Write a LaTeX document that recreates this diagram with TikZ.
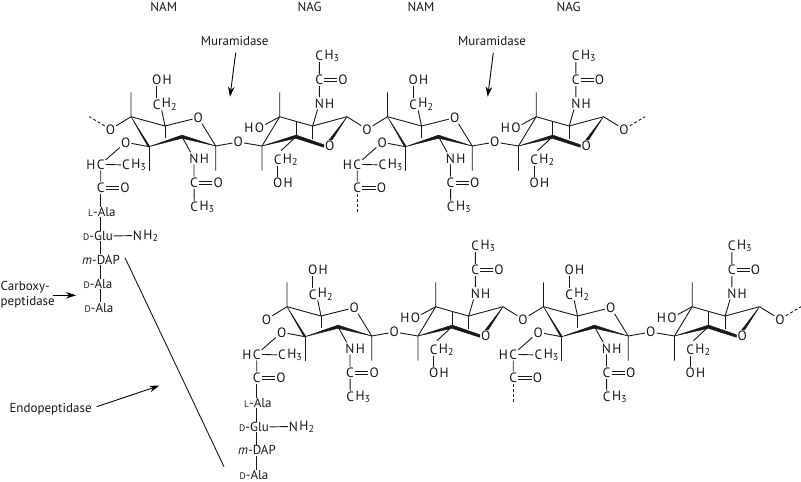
\documentclass[tikz,border=0pt]{standalone}
\usepackage{fontspec}
\setmainfont{PT Sans}
\usetikzlibrary{arrows.meta}
\tikzset{
  atom/.style={inner sep=1pt,font=\fontsize{13.5}{13.5}\selectfont,text=black!90},
  hpart/.style={atom,anchor=west,inner xsep=0pt},
  label text/.style={inner sep=0pt,font=\fontsize{13}{15}\selectfont,text=black!90},
  chain text/.style={inner sep=0.5pt,anchor=base west,font=\fontsize{13}{13}\selectfont,text=black!90},
  bond/.style={draw=black!90,line width=0.9pt},
  wedge fill/.style={fill=black!90,draw=black!90,line width=0.4pt,line join=round},
  dash bond/.style={bond,dash pattern=on 3pt off 2.2pt},
  pointer/.style={draw=black,line width=0.9pt,-{Stealth[length=10pt,width=6.5pt]}}
}
\newcommand{\hgrp}[4]{\node[atom] (#1) at (#2) {#3}; \node[hpart] (#1h) at (#1.east) {#4};}
\newcommand{\subn}[1]{\raisebox{-0.35ex}{\fontsize{10}{10}\selectfont #1}}
\newcommand{\sm}[1]{{\fontsize{9.5}{10}\selectfont #1}}
\newcommand{\dbl}[2]{\draw[bond] ([yshift=1.6pt]#1.east) -- ([yshift=1.6pt]#2.west); \draw[bond] ([yshift=-1.6pt]#1.east) -- ([yshift=-1.6pt]#2.west);}
\newcommand{\NAMunit}{
  \coordinate (C1) at (215.7,146);
  \coordinate (C2) at (182,136.7);
  \coordinate (C3) at (149,146.7);
  \coordinate (C4) at (131,116.7);
  \coordinate (C5) at (165,126);
  \coordinate (up) at (131,92.3);
  \coordinate (d3) at (149,170.7);
  \coordinate (d1) at (215.7,170.7);
  \coordinate (s5) at (165,137.7);
  \node[atom] (Ol) at (110.5,129.3) {O};
  \node[atom] (Or) at (198.3,117.7) {O};
  \node[atom] (Ox) at (238.3,142) {O};
  \node[atom] (O3) at (125.7,142.3) {O};
  \hgrp{CH}{156.7,104.3}{C}{H\subn{2}}
  \node[atom] (OH) at (156.7,80) {O}; \node[hpart] (OHh) at (OH.east) {H};
  \hgrp{N}{194,158.3}{N}{H}
  \node[atom] (Cc) at (194,182.7) {C};
  \node[atom] (Oc) at (218.3,182.7) {O};
  \hgrp{Me}{194.3,207}{C}{H\subn{3}}
  \node[atom] (Cs) at (100.7,164.3) {C};
  \node[atom,anchor=east,inner xsep=0pt] (Hs) at (Cs.west) {H};
  \hgrp{Ms}{126,165}{C}{H\subn{3}}
  \node[atom] (Cq) at (100.7,187.7) {C};
  \node[atom] (Oq) at (125,187.7) {O};
  \draw[bond] (Ol) -- (C4) -- (up);
  \draw[bond] (C4) -- (C5) -- (Or) -- (C1) -- (d1);
  \draw[bond] (C5) -- (s5);
  \draw[bond] (C5) -- (CH.south east);
  \draw[bond] (CH) -- (OH);
  \draw[bond] (C3) -- (d3);
  \draw[bond] (C3) -- (O3) -- (Cs) -- (Cq);
  \draw[bond] (Cs) -- (Ms);
  \dbl{Cq}{Oq}
  \draw[bond] (C2) -- (N) -- (Cc) -- (Me);
  \dbl{Cc}{Oc}
  \draw[bond] (C1) -- (Ox);
  \fill[wedge fill] (C3) -- ([yshift=1.6pt]C2) -- (C1) -- ([yshift=-1.6pt]C2) -- cycle;
  \fill[wedge fill] (C4) -- ([xshift=1pt]C3) -- ([xshift=-1pt]C3) -- cycle;
}
\newcommand{\NAGunit}{
  \coordinate (C1) at (262,146);
  \coordinate (d1) at (262,170.7);
  \coordinate (C2) at (279.7,116.7);
  \coordinate (up) at (279.7,92.3);
  \coordinate (Cb) at (296,136.7);
  \coordinate (Ct) at (296,121.4);
  \coordinate (C3) at (312.7,126);
  \coordinate (s3) at (312.7,139.3);
  \coordinate (C4) at (347,116.7);
  \coordinate (s4) at (281,150.7);
  \node[atom] (Oh) at (259.5,127.7) {O}; \node[atom,anchor=east,inner xsep=0pt] (Hh) at (Oh.west) {H};
  \node[atom] (Or) at (329.7,146) {O};
  \hgrp{CH}{277.7,160}{C}{H\subn{2}}
  \node[atom] (OH) at (277.7,182.7) {O}; \node[hpart] (OHh) at (OH.east) {H};
  \hgrp{N}{319.3,103.3}{N}{H}
  \node[atom] (Cc) at (319.3,80) {C};
  \node[atom] (Oc) at (343,80) {O};
  \hgrp{Me}{319.3,56}{C}{H\subn{3}}
  \draw[bond] (d1) -- (C1) -- (C2) -- (up);
  \draw[bond] (Oh) -- (C2);
  \draw[bond] (C2) -- (Ct) -- (C3) -- (C4);
  \draw[bond] (Ct) -- (Cb);
  \draw[bond] (C3) -- (s3);
  \draw[bond] (Cb) -- (s4);
  \draw[bond] (CH) -- (OH);
  \draw[bond] (C3) -- (N) -- (Cc) -- (Me);
  \dbl{Cc}{Oc}
  \fill[wedge fill] (C1) -- ([yshift=1.6pt]Cb) -- ([yshift=-1.6pt]Cb) -- cycle;
  \fill[wedge fill] ([yshift=1.7pt]Cb) -- ([yshift=1.3pt]Or.west) -- ([yshift=-1.3pt]Or.west) -- ([yshift=-1.7pt]Cb) -- cycle;
  \fill[wedge fill] (C4) -- ([xshift=2.5pt]Or.north) -- ([xshift=-0.5pt]Or.north) -- cycle;
}
\newcommand{\sugarrow}[3]{
  \begin{scope}[shift={(#2,#3)}]
    \begin{scope}[name prefix=#1a-]\NAMunit\end{scope}
    \begin{scope}[name prefix=#1b-]\NAGunit\end{scope}
    \begin{scope}[shift={(256.5,0)},name prefix=#1c-]\NAMunit\end{scope}
    \begin{scope}[shift={(256.5,0)},name prefix=#1d-]\NAGunit\end{scope}
    \node[atom] (#1e) at (624,129.3) {O};
    \coordinate (#1rs) at (645,116.7);
    \coordinate (#1cd) at (357.2,212);
    \draw[dash bond] (#1e) -- (#1rs);
    \draw[dash bond] (#1c-Cq) -- (#1cd);
    \draw[bond] (#1a-Ox) -- (#1b-C1);
    \draw[bond] (#1b-C4) -- (#1c-Ol);
    \draw[bond] (#1c-Ox) -- (#1d-C1);
    \draw[bond] (#1d-C4) -- (#1e);
    % peptide stem
    \begin{scope}[yshift=#3*-0.005pt]
    \node[chain text] (#1la) at (87.5,216.5) {\sm{L}-Ala};
    \node[chain text] (#1dg) at (82.5,240.5) {\sm{D}-Glu};
    \hgrp{#1nh}{137.5,235.5}{N}{H\subn{2}}
    \node[chain text] (#1dap) at (81.5,264) {\textit{m}-DAP};
    \node[chain text] (#1da) at (83,288.5) {\sm{D}-Ala};
    \end{scope}
    \draw[bond] (#1a-Cq) -- (#1a-Cq |- #1la.north);
    \draw[bond] (#1a-Cq |- #1la.south) -- (#1a-Cq |- #1dg.north);
    \draw[bond] (#1a-Cq |- #1dg.south) -- (#1a-Cq |- #1dap.north);
    \draw[bond] (#1a-Cq |- #1dap.south) -- (#1a-Cq |- #1da.north);
    \draw[bond] (#1dg.east) -- (#1nh);
  \end{scope}
}
\begin{document}
\begin{tikzpicture}[x=1pt,y=-1pt]
\useasboundingbox (0,0) rectangle (801,482);
\sugarrow{p}{0}{0}
\sugarrow{q}{156}{190}
% dashed chain start, first row only
\coordinate (pls) at (89.3,116.7);
\draw[dash bond] (pa-Ol) -- (pls);
% first-row stem continuation
\node[chain text] (pdb) at (84,312) {\sm{D}-Ala};
\draw[bond] (pa-Cq |- pda.south) -- (pa-Cq |- pdb.north);
% sugar labels
\node[label text] (n1) at (163.8,7) {NAM};
\node[label text] (n2) at (309.5,7) {NAG};
\node[label text] (n3) at (421,7) {NAM};
\node[label text] (n4) at (568.5,7) {NAG};
% enzymes
\node[label text] (m1) at (234.7,41) {Muramidase};
\node[label text] (m2) at (492,41) {Muramidase};
\coordinate (m1t) at (230,96.7);
\coordinate (m2t) at (487.7,96.7);
\coordinate (m1s) at (235.7,52.7);
\coordinate (m2s) at (493.3,52.7);
\draw[pointer] (m1s) -- (m1t);
\draw[pointer] (m2s) -- (m2t);
\node[label text,anchor=north west,align=left] (cp) at (0.5,281) {Carboxy-\\peptidase};
\coordinate (cpt) at (76,295.3);
\coordinate (cps) at (52.7,295.3);
\draw[pointer] (cps) -- (cpt);
\node[label text,anchor=west] (ep) at (9.3,409.3) {Endopeptidase};
\coordinate (ept) at (159.3,385.7);
\coordinate (eps) at (96.7,406.7);
\draw[pointer] (eps) -- (ept);
\coordinate (ls) at (125,257.7);
\coordinate (le) at (224,466.7);
\draw[bond] (ls) -- (le);
\end{tikzpicture}
\end{document}
